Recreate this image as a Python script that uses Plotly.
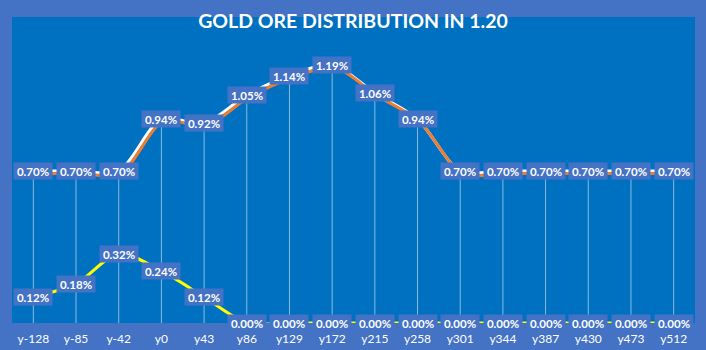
import plotly.graph_objects as go

# ---- data ----
categories = ["y-128", "y-85", "y-42", "y0", "y43", "y86", "y129", "y172",
              "y215", "y258", "y301", "y344", "y387", "y430", "y473", "y512"]
gold_main = [0.70, 0.70, 0.70, 0.94, 0.92, 1.05, 1.14, 1.19,
             1.06, 0.94, 0.70, 0.70, 0.70, 0.70, 0.70, 0.70]
gold_extra = [0.12, 0.18, 0.32, 0.24, 0.12, 0.00, 0.00, 0.00,
              0.00, 0.00, 0.00, 0.00, 0.00, 0.00, 0.00, 0.00]
title_text = "GOLD ORE DISTRIBUTION IN 1.20"

# ---- style ----
W, H = 706, 350
ML, MR, MT, MB = 12, 11, 17, 27
PLOT_W = W - ML - MR
PLOT_H = H - MT - MB
OUTER = "#4472C4"
INNER = "#0070C0"
FONT = "Lato"
Y_MAX = 1.41
n = len(categories)
idx = list(range(n))
x_range = [-0.5, n - 0.5]
px_x = (x_range[1] - x_range[0]) / PLOT_W
px_y = Y_MAX / PLOT_H
SHX, SHY = 1.8, 2.4  # shadow offset px

fig = go.Figure()

# drop lines from the main series to the axis
dx, dy = [], []
for i, v in zip(idx, gold_main):
    dx += [i, i, None]
    dy += [v, 0, None]
fig.add_trace(go.Scatter(x=dx, y=dy, mode="lines",
                         line=dict(color="rgba(225,238,252,0.6)", width=1),
                         hoverinfo="skip", showlegend=False))

# orange shadow of the main line (shifted axes)
fig.add_trace(go.Scatter(x=idx, y=gold_main, mode="lines", xaxis="x2", yaxis="y2",
                         line=dict(color="#ED7D31", width=3, shape="spline", smoothing=0.8),
                         showlegend=False, cliponaxis=False))
fig.add_trace(go.Scatter(x=idx, y=gold_main, mode="lines",
                         line=dict(color="#FFFFFF", width=3, shape="spline", smoothing=0.8),
                         showlegend=False, cliponaxis=False))
fig.add_trace(go.Scatter(x=idx, y=gold_extra, mode="lines",
                         line=dict(color="#FFFF00", width=3, shape="spline", smoothing=0.8),
                         showlegend=False, cliponaxis=False))

annotations = []
for series in (gold_main, gold_extra):
    for i, v in zip(idx, series):
        annotations.append(dict(
            x=i, y=v, xref="x", yref="y", text=f"<b>{v:.2f}%</b>",
            showarrow=False, bgcolor=OUTER, borderpad=1, width=36, height=14,
            font=dict(family=FONT, size=11.5, color="#FFFFFF"),
            xanchor="center", yanchor="middle"))

fig.update_layout(
    width=W, height=H,
    margin=dict(l=ML, r=MR, t=MT, b=MB, pad=0, autoexpand=False),
    paper_bgcolor=OUTER, plot_bgcolor=INNER,
    showlegend=False,
    title=dict(text=f"<b>{title_text}</b>", x=0.5, xanchor="center",
               y=1 - 21 / H, yanchor="middle", yref="container",
               font=dict(family=FONT, size=19.5, color="#FFFFFF")),
    xaxis=dict(range=x_range, tickmode="array", tickvals=idx, ticktext=categories,
               showgrid=False, zeroline=False, showline=False, ticks="",
               ticklabelstandoff=7, automargin=False,
               tickfont=dict(family=FONT, size=12, color="#FFFFFF"),
               fixedrange=True),
    yaxis=dict(range=[0, Y_MAX], showgrid=False, zeroline=False, showline=False,
               showticklabels=False, ticks="", fixedrange=True, automargin=False),
    xaxis2=dict(range=[x_range[0] - SHX * px_x, x_range[1] - SHX * px_x],
                overlaying="x", visible=False, fixedrange=True),
    yaxis2=dict(range=[SHY * px_y, Y_MAX + SHY * px_y],
                overlaying="y", visible=False, fixedrange=True),
    annotations=annotations,
)

fig.write_html("out.html")
